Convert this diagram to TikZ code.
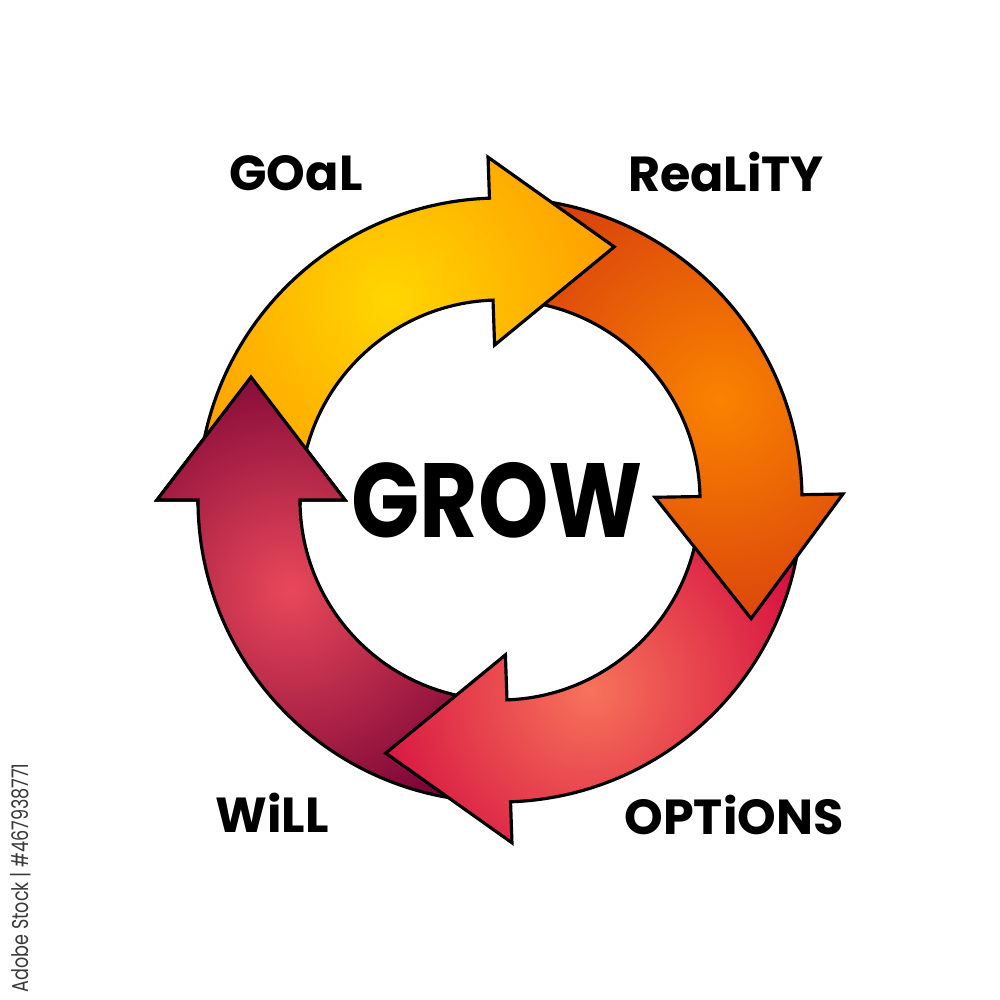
\documentclass[tikz,border=0pt]{standalone}
\usepackage{fontspec}
\setmainfont{Poppins}
\usetikzlibrary{calc}
\definecolor{ylwin}{HTML}{FFD600}
\definecolor{ylwout}{HTML}{FF9000}
\definecolor{orgin}{HTML}{F98300}
\definecolor{orgout}{HTML}{D4360F}
\definecolor{redin}{HTML}{F7735A}
\definecolor{redout}{HTML}{D0003C}
\definecolor{purin}{HTML}{E9485A}
\definecolor{purout}{HTML}{740034}
\definecolor{wmgray}{HTML}{3A3A3A}
% #1 tail angle, #2 base angle (clockwise arrow)
\newcommand{\arrpath}[2]{(#1:3.02) arc[start angle=#1, end angle=#2, radius=3.02]
  -- (#2:3.43) -- ($(#2:2.49)+(#2-90:1.23)$) -- (#2:1.55) -- (#2:2.0)
  arc[start angle=#2, end angle=#1, radius=2.0] -- cycle}
% #1 tail, #2 base, #3 inner colour, #4 outer colour, #5 shade centre, #6 shade radius
\newcommand{\shadedarrow}[6]{%
  \begin{scope}
    \clip \arrpath{#1}{#2};
    \shade[inner color=#3, outer color=#4] #5 circle (#6);
  \end{scope}
  \draw[outl] \arrpath{#1}{#2};}
\begin{document}
\begin{tikzpicture}[
  outl/.style={draw=black, line width=0.9pt, line join=miter},
  lbl/.style={font=\bfseries\fontsize{14}{14}\selectfont, text=black, inner sep=0pt},
  bigl/.style={font=\bfseries\fontsize{30}{30}\selectfont, text=black, inner sep=0pt, xscale=0.85, transform shape}
]
\useasboundingbox (-5,-5) rectangle (5,5);
\fill[white] (-5,-5) rectangle (5,5);
% arrows: purple (Will), red (Options), orange (Reality), yellow (Goal)
\shadedarrow{264}{180}{purin}{purout}{(-2.1,-0.9)}{2.6}
\shadedarrow{-7}{-88}{redin}{redout}{(0.9,-1.9)}{2.7}
\shadedarrow{84}{1}{orgin}{orgout}{(2.2,1.0)}{2.8}
\shadedarrow{172}{92}{ylwin}{ylwout}{(-1.1,2.0)}{2.9}
% purple head again, on top of the yellow tail
\begin{scope}
  \clip (-3.8,-0.05) rectangle (-1.2,1.5);
  \shadedarrow{264}{180}{purin}{purout}{(-2.1,-0.9)}{2.6}
\end{scope}
% labels
\node[lbl] (goal) at (-2.04,3.27) {GOaL};
\node[lbl] (reality) at (2.26,3.28) {ReaLiTY};
\node[lbl] (will) at (-2.28,-3.13) {WiLL};
\node[lbl] (options) at (2.34,-3.15) {OPTiONS};
\node[bigl] (grow) at (-0.03,0.0) {GROW};
% stock id at the left edge
\node[font=\fontsize{6.5}{6.5}\selectfont, text=wmgray, rotate=90, anchor=west, inner sep=0pt] (stockid) at (-4.79,-4.93) {\scalebox{0.77}[1]{Adobe Stock | \#467938771}};
\end{tikzpicture}
\end{document}
